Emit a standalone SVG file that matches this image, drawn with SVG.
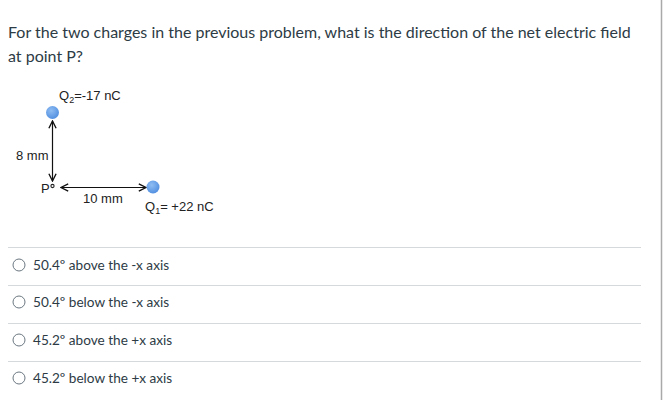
<svg xmlns="http://www.w3.org/2000/svg" width="665" height="400" viewBox="0 0 665 400">
<style>
.q{font-family:Lato,"Liberation Sans",sans-serif;font-size:16px;fill:#2d3b45}
.opt{font-family:Lato,"Liberation Sans",sans-serif;font-size:13.6px;fill:#2d3b45}
.d{font-family:"Liberation Sans",Arial,sans-serif;font-size:13px;fill:#222}
.sep{stroke:#d5d9dc;stroke-width:1}
.radio{fill:#fff;stroke:#6b7780;stroke-width:1}
.ln{stroke:#111;stroke-width:1.2;fill:none}
</style>
<defs>
<radialGradient id="blue" cx="0.4" cy="0.35" r="0.7">
<stop offset="0" stop-color="#8fbdf3"/>
<stop offset="1" stop-color="#4f8ddf"/>
</radialGradient>
<marker id="ah" viewBox="0 0 10 10" refX="9" refY="5" markerWidth="9" markerHeight="9" markerUnits="userSpaceOnUse" orient="auto-start-reverse">
<path d="M1,1 L9,5 L1,9" fill="none" stroke="#111" stroke-width="1.5"/>
</marker>
</defs>
<rect width="665" height="400" fill="#fff"/>
<line x1="661.5" y1="0" x2="661.5" y2="400" stroke="#a9a9a9" stroke-width="1.5"/>
<text class="q" x="8" y="38">For the two charges in the previous problem, what is the direction of the net electric field</text>
<text class="q" x="8" y="62">at point P?</text>
<g id="connectors">
<line class="ln" x1="52.5" y1="121" x2="52.5" y2="181" marker-start="url(#ah)" marker-end="url(#ah)"/>
<line class="ln" x1="61" y1="187.5" x2="146" y2="187.5" marker-start="url(#ah)" marker-end="url(#ah)"/>
</g>
<g id="Q2">
<circle cx="52.5" cy="112.5" r="6.5" fill="url(#blue)"/>
<text class="d" x="59" y="100">Q<tspan font-size="9" dy="2.5">2</tspan><tspan dy="-2.5">=-17 nC</tspan></text>
</g>
<g id="P">
<text class="d" x="41" y="193">P</text>
<circle cx="52.5" cy="186" r="1.6" fill="none" stroke="#222" stroke-width="1.1"/>
</g>
<g id="Q1">
<circle cx="153" cy="187" r="6.5" fill="url(#blue)"/>
<text class="d" x="145" y="211">Q<tspan font-size="9" dy="2.5">1</tspan><tspan dy="-2.5">= +22 nC</tspan></text>
</g>
<text class="d" x="16" y="160">8 mm</text>
<text class="d" x="83" y="203">10 mm</text>
<line class="sep" x1="8" y1="247.5" x2="641" y2="247.5"/>
<line class="sep" x1="8" y1="285.5" x2="641" y2="285.5"/>
<line class="sep" x1="8" y1="323.5" x2="641" y2="323.5"/>
<line class="sep" x1="8" y1="361.5" x2="641" y2="361.5"/>
<g id="opt1"><circle class="radio" cx="19" cy="265" r="6"/><text class="opt" x="33" y="270">50.4º above the -x axis</text></g>
<g id="opt2"><circle class="radio" cx="19" cy="302" r="6"/><text class="opt" x="33" y="307">50.4º below the -x axis</text></g>
<g id="opt3"><circle class="radio" cx="19" cy="340" r="6"/><text class="opt" x="33" y="345">45.2º above the +x axis</text></g>
<g id="opt4"><circle class="radio" cx="19" cy="378" r="6"/><text class="opt" x="33" y="383">45.2º below the +x axis</text></g>
</svg>
